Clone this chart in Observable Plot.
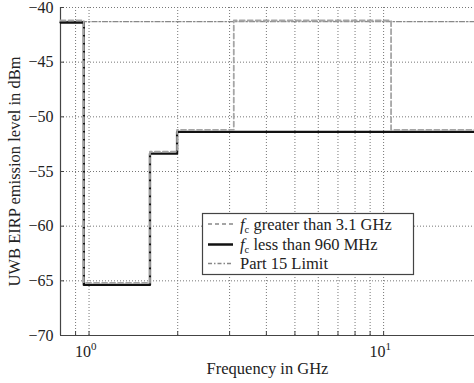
<!DOCTYPE html>
<html><head><meta charset="utf-8">
<script src="https://cdn.jsdelivr.net/npm/d3@7"></script>
<script src="https://cdn.jsdelivr.net/npm/@observablehq/plot@0.6"></script>
<style>body{margin:0;background:#fff;} svg{display:block;}</style>
</head><body><div id="chart"></div>
<script>
// ---- data ----
const xDomain = [0.8, 20.35];
const yDomain = [-70, -40];
const yTicks = [-70, -65, -60, -55, -50, -45, -40];
const xGridTicks = [0.9, 1, 2, 3, 4, 5, 6, 7, 8, 9, 10];
const xLabelTicks = [1, 10];
const xTickBase = ["10", "10"];
const xTickExp = ["0", "1"];
const freqHigh = [0.8, 0.96, 1.61, 1.99, 3.1, 10.6, 20.35];
const levelHigh = [-41.3, -65.3, -53.3, -51.3, -41.3, -51.3, -51.3];
const freqLow = [0.8, 0.96, 1.61, 1.99, 20.35];
const levelLow = [-41.3, -65.3, -53.3, -51.3, -51.3];
const freqPart15 = [0.8, 20.35];
const levelPart15 = [-41.3, -41.3];
const legendLabels = ["greater than 3.1 GHz", "less than 960 MHz", "Part 15 Limit"];
const xLabel = "Frequency in GHz";
const yLabel = "UWB EIRP emission level in dBm";

const high = freqHigh.map((f, i) => ({f, v: levelHigh[i]}));
const low = freqLow.map((f, i) => ({f, v: levelLow[i]}));
const part15 = freqPart15.map((f, i) => ({f, v: levelPart15[i]}));

const W = 474, H = 383, mL = 60, mR = 0, mT = 7, mB = 48;
const font = "Liberation Serif";
const gridStyle = {stroke: "#777", strokeDasharray: "1,2", strokeWidth: 1};

const svg = Plot.plot({
  width: W, height: H,
  marginLeft: mL, marginRight: mR, marginTop: mT, marginBottom: mB,
  style: {fontFamily: font, fontSize: "16px", color: "#222", background: "#fff"},
  x: {type: "log", domain: xDomain, axis: null},
  y: {domain: yDomain, axis: null},
  marks: [
    Plot.ruleX(xGridTicks, gridStyle),
    Plot.ruleY(yTicks, gridStyle),
    Plot.ruleX(xGridTicks, {stroke: "#444", insetTop: H - mT - mB - 4}),
    Plot.ruleY(yTicks, {stroke: "#444", insetRight: W - mL - mR - 4}),
    Plot.ruleX([xDomain[0]], {stroke: "#444", strokeWidth: 1.2}),
    Plot.ruleY([yDomain[0]], {stroke: "#444", strokeWidth: 1.2}),
    Plot.axisY({ticks: yTicks, tickSize: 0, tickPadding: 7, label: null, fontSize: 16}),
    Plot.text(xLabelTicks, {x: d => d, text: (d, i) => xTickBase[i], frameAnchor: "bottom", lineAnchor: "bottom", textAnchor: "end", dx: 2, dy: 21, fontSize: 16}),
    Plot.text(xLabelTicks, {x: d => d, text: (d, i) => xTickExp[i], frameAnchor: "bottom", lineAnchor: "bottom", textAnchor: "start", dx: 2, dy: 14, fontSize: 11}),
    Plot.text([xLabel], {frameAnchor: "bottom", lineAnchor: "middle", textAnchor: "middle", dy: 33, fontSize: 16.5}),
    Plot.text([yLabel], {frameAnchor: "left", lineAnchor: "middle", textAnchor: "middle", rotate: -90, dx: -46, fontSize: 16.5}),
    Plot.line(part15, {x: "f", y: "v", stroke: "#888", strokeWidth: 1.3, strokeDasharray: "5,2,1.5,2"}),
    Plot.line(low, {x: "f", y: "v", curve: "step-after", stroke: "#111", strokeWidth: 2.3, dy: 0.8}),
    Plot.line(high, {x: "f", y: "v", curve: "step-after", stroke: "#a5a5a5", strokeWidth: 1.8, strokeDasharray: "5,3", dy: -1.2})
  ]
});

// legend
const g = d3.select(svg).append("g").attr("font-family", font).attr("font-size", 16.5)
  .attr("fill", "#222").attr("text-anchor", "start");
g.append("rect").attr("x", 202.5).attr("y", 213.5).attr("width", 211).attr("height", 61)
  .attr("fill", "#fff").attr("stroke", "#444").attr("stroke-width", 1.2);
const rows = [
  {y: 224, stroke: "#a5a5a5", w: 1.8, dash: "4,3", fc: true},
  {y: 244.5, stroke: "#111", w: 2.5, dash: null, fc: true},
  {y: 263.5, stroke: "#888", w: 1.3, dash: "4,2,1.5,2", fc: false}
];
rows.forEach((r, i) => {
  const ln = g.append("line").attr("x1", 208).attr("x2", 233).attr("y1", r.y).attr("y2", r.y)
    .attr("stroke", r.stroke).attr("stroke-width", r.w);
  if (r.dash) ln.attr("stroke-dasharray", r.dash);
  const t = g.append("text").attr("x", 240).attr("y", r.y + 5.5);
  if (r.fc) {
    t.append("tspan").attr("font-style", "italic").text("f");
    t.append("tspan").attr("font-size", 10.5).attr("dy", 3).text("c");
    t.append("tspan").attr("dy", -3).text(" " + legendLabels[i]);
  } else {
    t.text(legendLabels[i]);
  }
});

document.getElementById("chart").appendChild(svg);
</script>
</body></html>
